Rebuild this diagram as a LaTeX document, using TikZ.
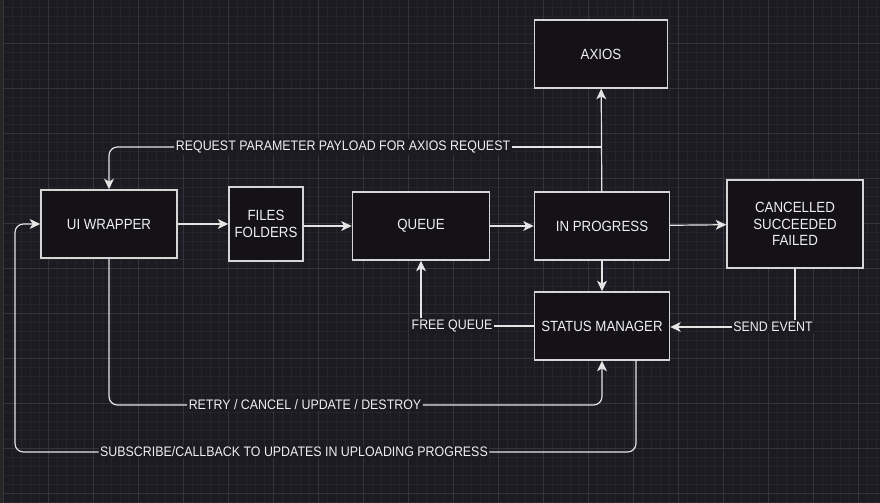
\documentclass[tikz,border=0pt]{standalone}
\usepackage{fontspec}
\usepackage{xcolor}
\usepackage{tikz}
\usetikzlibrary{arrows.meta}
\setmainfont{Liberation Sans}[FakeStretch=0.9]

\definecolor{bg}{HTML}{1D1B22}
\definecolor{gridminor}{HTML}{25232B}
\definecolor{gridmajor}{HTML}{35333B}
\definecolor{boxfill}{HTML}{141217}
\definecolor{boxline}{HTML}{D6D6D6}
\definecolor{wire}{HTML}{E4E4E4}

\newcommand\boxfont{\fontsize{10.5}{11.5}\selectfont}
\newcommand\lblfont{\fontsize{9.8}{11.4}\selectfont}

\tikzset{
  box/.style={draw=boxline, fill=boxfill, line width=1pt, text=white!94!black,
    minimum width=3.4cm, minimum height=1.7cm, align=center, font=\boxfont},
  lbl/.style={fill=bg, inner sep=1pt, text=white!94!black, font=\lblfont},
  wire/.style={draw=wire, line width=0.85pt},
  >={Stealth[length=7.5pt,width=7pt,inset=2pt]}
}

\begin{document}
\begin{tikzpicture}[x=0.025cm, y=-0.025cm]
      \useasboundingbox (0,0) rectangle (880,503);
      \fill[bg] (0,0) rectangle (880,503);
      \fill[black!85] (0,0) rectangle (3,503);
        % grid
      \foreach \x in {3,12,...,880} \draw[gridminor, line width=0.4pt] (\x,0) -- (\x,503);
      \foreach \y in {7,16,...,503} \draw[gridminor, line width=0.4pt] (3,\y) -- (880,\y);
      \foreach \x in {3,48,...,880} \draw[gridmajor, line width=0.6pt] (\x,0) -- (\x,503);
      \foreach \y in {43,88,...,503} \draw[gridmajor, line width=0.6pt] (3,\y) -- (880,\y);
        % boxes
      \node[box, minimum width=3.325cm] (AX) at (601,54) {AXIOS};
      \node[box] (UI) at (109,224) {UI WRAPPER};
      \node[box, minimum width=1.85cm, minimum height=1.85cm] (FF) at (266,224) {FILES\\FOLDERS};
      \node[box, minimum width=3.425cm] (Q) at (421,226) {QUEUE};
      \node[box, minimum width=3.375cm] (IP) at (602,226) {IN PROGRESS};
      \node[box, minimum height=2.2cm] (CSF) at (795,224) {CANCELLED\\SUCCEEDED\\FAILED};
      \node[box, minimum width=3.375cm] (SM) at (602,326) {STATUS MANAGER};
        % labels
      \node[lbl] (REQ) at (343,147) {REQUEST PARAMETER PAYLOAD FOR AXIOS REQUEST};
      \node[lbl] (FQ) at (452,326) {FREE QUEUE};
      \node[lbl] (SE) at (773,327) {SEND EVENT};
      \node[lbl] (RT) at (305,405) {RETRY / CANCEL / UPDATE / DESTROY};
      \node[lbl] (SB) at (294,452) {SUBSCRIBE/CALLBACK TO UPDATES IN UPLOADING PROGRESS};
      \coordinate (SMB) at (636,360);
      \coordinate (LC) at (15,452);
        % connectors
      \draw[wire, ->] (UI) -- (FF);
      \draw[wire, ->] (FF.east |- Q) -- (Q);
      \draw[wire, ->] (Q) -- (IP);
      \draw[wire, ->] (IP) -- (CSF);
      \draw[wire, ->] (IP) -- (AX);
      \draw[wire, ->] (IP) -- (SM);
      \draw[wire] (REQ.east) -- (REQ.east -| IP.north);
      \draw[wire, ->, rounded corners=6pt] (REQ.west) -| (UI.north);
      \draw[wire] (SM.west) -- (FQ.east);
      \draw[wire, ->] (FQ.north -| Q.south) -- (Q.south);
      \draw[wire] (CSF.south) -- (CSF.south |- SE.north);
      \draw[wire, ->] (SE.west) -- (SE.west -| SM.east);
      \draw[wire, rounded corners=6pt] (UI.south) |- (RT.west);
      \draw[wire, ->, rounded corners=6pt] (RT.east) -| (SM.south);
      \draw[wire, rounded corners=6pt] (SMB) |- (SB.east);
      \draw[wire, ->, rounded corners=6pt] (SB.west) -- (LC) |- (UI.west);
    \end{tikzpicture}
\end{document}
